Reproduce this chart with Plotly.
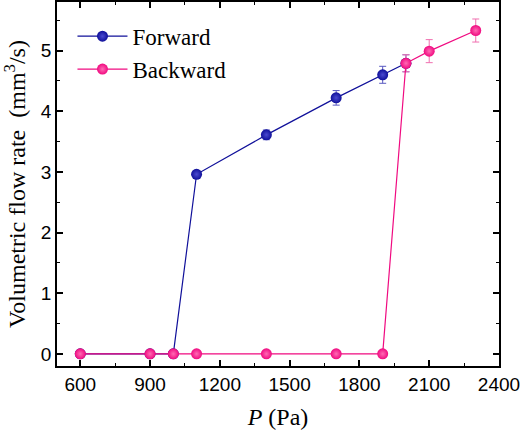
import plotly.graph_objects as go

# Data
fwd_p = [600, 900, 1000, 1100, 1400, 1700, 1900, 2000]
fwd_q = [0, 0, 0, 2.96, 3.61, 4.22, 4.60, 4.79]
fwd_err = [0, 0, 0, 0.05, 0.08, 0.12, 0.14, 0.14]

bwd_p = [2300, 2100, 2000, 1900, 1700, 1400, 1100, 1000, 900, 600]
bwd_q = [5.33, 4.99, 4.79, 0, 0, 0, 0, 0, 0, 0]
bwd_err = [0.19, 0.19, 0.14, 0, 0, 0, 0, 0, 0, 0]

x_ticks = [600, 900, 1200, 1500, 1800, 2100, 2400]
y_ticks = [0, 1, 2, 3, 4, 5]

BLUE = "#10109a"
PINK = "#f00a80"

fig = go.Figure()
fig.add_trace(go.Scatter(
    x=fwd_p, y=fwd_q, name="Forward", mode="lines+markers",
    line=dict(color=BLUE, width=1.2),
    marker=dict(size=11, color=BLUE, gradient=dict(type="radial", color="#4a4ad0")),
    error_y=dict(type="data", array=fwd_err, color="#5858c0", thickness=1, width=3.5),
))
fig.add_trace(go.Scatter(
    x=bwd_p, y=bwd_q, name="Backward", mode="lines+markers",
    line=dict(color=PINK, width=1.2),
    marker=dict(size=11, color=PINK, gradient=dict(type="radial", color="#ff6ab4")),
    error_y=dict(type="data", array=bwd_err, color="#f070b0", thickness=1, width=3.5),
))

axis_common = dict(
    showline=True, linecolor="black", linewidth=1.6, mirror="allticks",
    ticks="inside", ticklen=6, tickwidth=1.6, tickcolor="black",
    showgrid=False, zeroline=False, automargin=False,
    ticklabeloverflow="allow",
    tickfont=dict(family="Liberation Sans, Arial", size=19, color="black"),
)

SERIF = "Liberation Serif, Times New Roman"

fig.update_layout(
    width=520, height=432,
    margin=dict(l=57, r=21, t=2, b=66),
    paper_bgcolor="white", plot_bgcolor="white",
    showlegend=True,
    legend=dict(
        x=0.035, y=0.965, xanchor="left", yanchor="top",
        font=dict(family=SERIF, size=23, color="black"),
        bgcolor="rgba(0,0,0,0)", itemwidth=50, tracegroupgap=0,
    ),
    xaxis=dict(
        range=[500, 2400], tickvals=x_ticks,
        minor=dict(ticks="inside", ticklen=3, tickwidth=1.4, tickcolor="black", dtick=150, tick0=600),
        title=dict(text="<i>P</i> (Pa)", standoff=15,
                   font=dict(family=SERIF, size=24, color="black")),
        **axis_common,
    ),
    yaxis=dict(
        range=[-0.2, 5.8], tickvals=y_ticks,
        minor=dict(ticks="inside", ticklen=3, tickwidth=1.4, tickcolor="black", dtick=0.5, tick0=0),
        title=dict(text="Volumetric flow rate  (mm<sup>3</sup>/s)", standoff=10,
                   font=dict(family=SERIF, size=24, color="black")),
        **axis_common,
    ),
)

fig.write_html("out.html", config={"displayModeBar": False},
               post_script="document.body.style.margin='0';")
